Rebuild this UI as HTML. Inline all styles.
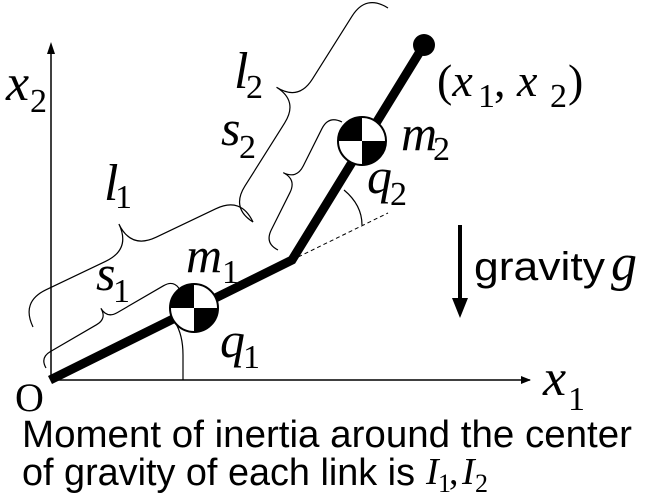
<!DOCTYPE html>
<html><head><meta charset="utf-8"><style>
html,body{margin:0;padding:0;background:#fff;}
svg{display:block;}
.it{font-family:"Liberation Serif",serif;font-style:italic;}
.rm{font-family:"Liberation Serif",serif;}
.ss{font-family:"Liberation Sans",sans-serif;}
</style></head><body>
<svg id="s" width="648" height="499" viewBox="0 0 648 499" xmlns="http://www.w3.org/2000/svg">
<defs>
<marker id="ah" markerWidth="10" markerHeight="8" refX="9" refY="4" orient="auto" markerUnits="userSpaceOnUse">
<path d="M0,0 L10,4 L0,8 z" fill="#000"/></marker>
</defs>
<line x1="51" y1="380" x2="530" y2="380" stroke="#000" stroke-width="1.5" marker-end="url(#ah)"/>
<line x1="51" y1="380" x2="51" y2="48" stroke="#000" stroke-width="1.5"/>
<path d="M51,42 L47,54 L55,54 z" fill="#000"/>
<line x1="292" y1="260" x2="388" y2="213" stroke="#000" stroke-width="1" stroke-dasharray="4,3"/>
<path d="M183,380 L183,355 Q183,335 175,322" fill="none" stroke="#000" stroke-width="1.2"/>
<path d="M362,225 Q362,205 344,190" fill="none" stroke="#000" stroke-width="1.2"/>
<polyline points="50,380 292,260 424,45" fill="none" stroke="#000" stroke-width="9" stroke-linejoin="miter"/>
<circle cx="424" cy="45" r="11" fill="#000"/>
<g transform="translate(194,308)">
<circle r="24" fill="#fff" stroke="#000" stroke-width="2"/>
<path d="M0,0 L-24,0 A24,24 0 0 1 0,-24 z" fill="#000"/>
<path d="M0,0 L24,0 A24,24 0 0 1 0,24 z" fill="#000"/>
</g>
<g transform="translate(362,141)">
<circle r="24" fill="#fff" stroke="#000" stroke-width="2"/>
<path d="M0,0 L-24,0 A24,24 0 0 1 0,-24 z" fill="#000"/>
<path d="M0,0 L24,0 A24,24 0 0 1 0,24 z" fill="#000"/>
</g>
<g id="braces" fill="none" stroke="#000" stroke-width="1.2"></g>
<line x1="460" y1="225" x2="460" y2="300" stroke="#000" stroke-width="4"/>
<path d="M452,298 L468,298 L460,318 z" fill="#000"/>
<text x="6" y="100" class="it" font-size="52">x</text><text x="30" y="112" class="rm" font-size="34">2</text>
<text x="15" y="411" class="rm" font-size="40">O</text>
<text x="543" y="395" class="it" font-size="52">x</text><text x="568" y="410" class="rm" font-size="34">1</text>
<text x="104" y="200" class="it" font-size="52">l</text><text x="115" y="208" class="rm" font-size="34">1</text>
<text x="96" y="290" class="it" font-size="50">s</text><text x="113" y="302" class="rm" font-size="34">1</text>
<text x="186" y="272" class="it" font-size="50">m</text><text x="222" y="283" class="rm" font-size="34">1</text>
<text x="220" y="357" class="it" font-size="50">q</text><text x="243" y="368" class="rm" font-size="34">1</text>
<text x="221" y="145" class="it" font-size="50">s</text><text x="239" y="158" class="rm" font-size="34">2</text>
<text x="234" y="88" class="it" font-size="52">l</text><text x="246" y="98" class="rm" font-size="34">2</text>
<text x="401" y="150" class="it" font-size="50">m</text><text x="433" y="160" class="rm" font-size="34">2</text>
<text x="367" y="193" class="it" font-size="50">q</text><text x="390" y="205" class="rm" font-size="34">2</text>
<text x="437" y="96" class="rm" font-size="46">(<tspan class="it">x</tspan></text><text x="478" y="107" class="rm" font-size="34">1</text>
<text x="494" y="96" class="rm" font-size="46">, <tspan class="it">x</tspan></text><text x="550" y="107" class="rm" font-size="34">2</text><text x="568" y="96" class="rm" font-size="46">)</text>
<text x="474" y="280" class="ss" font-size="40" textLength="131" lengthAdjust="spacingAndGlyphs">gravity</text><text x="611" y="280" class="it" font-size="52">g</text>
<text x="22" y="447" class="ss" font-size="38" textLength="610" lengthAdjust="spacingAndGlyphs">Moment of inertia around the center</text>
<text x="22" y="485" class="ss" font-size="38" textLength="393" lengthAdjust="spacingAndGlyphs">of gravity of each link is</text>
<text x="426" y="484" class="it" font-size="38">I</text><text x="438" y="492" class="rm" font-size="26">1</text>
<text x="449" y="484" class="rm" font-size="38">,</text><text x="462" y="484" class="it" font-size="38">I</text><text x="475" y="492" class="rm" font-size="26">2</text>
</svg>
<script>
function brace(A,B,d,t){
 var dx=B[0]-A[0],dy=B[1]-A[1],L=Math.hypot(dx,dy),u=[dx/L,dy/L],n=[u[1],-u[0]];
 if(t<0){n=[-n[0],-n[1]];}
 var M=[(A[0]+B[0])/2,(A[1]+B[1])/2];
 function p(b,a,k){return (b[0]+u[0]*a+n[0]*k).toFixed(1)+","+(b[1]+u[1]*a+n[1]*k).toFixed(1);}
 var s="M"+p(A,0,0)+" Q"+p(A,0,d)+" "+p(A,d,d)+" L"+p(M,-d,d)+" Q"+p(M,0,d)+" "+p(M,0,2*d)+" Q"+p(M,0,d)+" "+p(M,d,d)+" L"+p(B,-d,d)+" Q"+p(B,0,d)+" "+p(B,0,0);
 var e=document.createElementNS("http://www.w3.org/2000/svg","path");e.setAttribute("d",s);document.getElementById("braces").appendChild(e);
}
brace([46,368],[180,290],12,1);
brace([33,327],[253,222],28,1);
brace([278,250],[342,122],15,1);
brace([253,222],[388,8],26,1);
</script>
</body></html>
